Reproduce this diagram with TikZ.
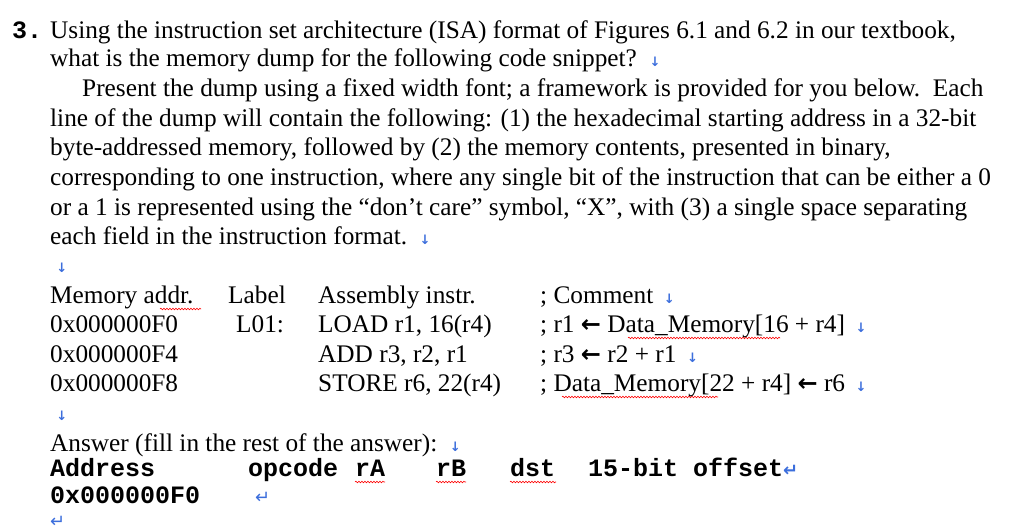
\documentclass[tikz,border=0pt]{standalone}
\usepackage{fontspec}
\setmainfont{Liberation Serif}
\setmonofont{Liberation Mono}
\newfontfamily\djfont{DejaVu Sans}
\usetikzlibrary{decorations.pathmorphing}
\definecolor{mk}{RGB}{60,110,220}
\tikzset{t/.style={anchor=base west,inner sep=0pt,font=\fontsize{25.3}{28}\selectfont},
 m/.style={anchor=base west,inner sep=0pt,font=\fontsize{25}{28}\selectfont\ttfamily\bfseries},
 wav/.style={red,line width=0.6pt,decorate,decoration={snake,amplitude=0.8pt,segment length=3pt}}}
\newcommand{\da}{\,{\djfont\fontsize{13}{13}\selectfont\color{mk}\textbf{↓}}}
\newcommand{\ra}{{\djfont\fontsize{18}{18}\selectfont\color{mk}↵}}
\newcommand{\la}{{\djfont\bfseries\fontsize{24}{24}\selectfont←}}
\begin{document}
\begin{tikzpicture}[x=1pt,y=-1pt]
\useasboundingbox (0,0) rectangle (1024,530);
\node[m] (n) at (12,38) {3.};
\node[t] (l1) at (50,38) {Using the instruction set architecture (ISA) format of Figures 6.1 and 6.2 in our textbook,};
\node[t] (l2) at (50,66) {what is the memory dump for the following code snippet? \da};
\node[t] (l3) at (82,96) {Present the dump using a fixed width font; a framework is provided for you below.\ \ Each};
\node[t] (l4) at (50,126) {line of the dump will contain the following: (1) the hexadecimal starting address in a 32-bit};
\node[t] (l5) at (50,155) {byte-addressed memory, followed by (2) the memory contents, presented in binary,};
\node[t] (l6) at (50,185) {corresponding to one instruction, where any single bit of the instruction that can be either a 0};
\node[t] (l7) at (50,215) {or a 1 is represented using the “don’t care” symbol, “X”, with (3) a single space separating};
\node[t] (l8) at (50,244) {each field in the instruction format. \da};
\node[t] (a1) at (52,272) {\da};
\node[t] (h1) at (50,303) {Memory addr.};
\node[t] (h2) at (228,303) {Label};
\node[t] (h3) at (318,303) {Assembly instr.};
\node[t] (h4) at (540,303) {; Comment \da};
\node[t] (r1a) at (50,332) {0x000000F0};
\node[t] (r1b) at (236,332) {L01:};
\node[t] (r1c) at (318,332) {LOAD r1, 16(r4)};
\node[t] (r1d) at (540,332) {; r1 \la\ Data\_Memory[16 + r4] \da};
\node[t] (r2a) at (50,362) {0x000000F4};
\node[t] (r2c) at (318,362) {ADD r3, r2, r1};
\node[t] (r2d) at (540,362) {; r3 \la\ r2 + r1 \da};
\node[t] (r3a) at (50,391) {0x000000F8};
\node[t] (r3c) at (318,391) {STORE r6, 22(r4)};
\node[t] (r3d) at (540,391) {; Data\_Memory[22 + r4] \la\ r6 \da};
\node[t] (a2) at (52,420) {\da};
\node[t] (ans) at (50,451) {Answer (fill in the rest of the answer): \da};
\node[m] (c1) at (50,476) {Address};
\node[m] (c2) at (248,476) {opcode};
\node[m] (c3) at (355,476) {rA};
\node[m] (c4) at (436,476) {rB};
\node[m] (c5) at (510,476) {dst};
\node[m] (c6) at (588,476) {15-bit offset\ra};
\node[m] (d1) at (50,503) {0x000000F0};
\node[t] (d2) at (255,503) {\ra};
\node[t] (d3) at (50,527) {\ra};
\draw[wav] (160,309) -- (201,309);
\draw[wav] (628,338) -- (780,338);
\draw[wav] (562,397) -- (718,397);
\draw[wav] (355,482) -- (385,482);
\draw[wav] (436,482) -- (466,482);
\draw[wav] (510,482) -- (556,482);
\end{tikzpicture}
\end{document}
